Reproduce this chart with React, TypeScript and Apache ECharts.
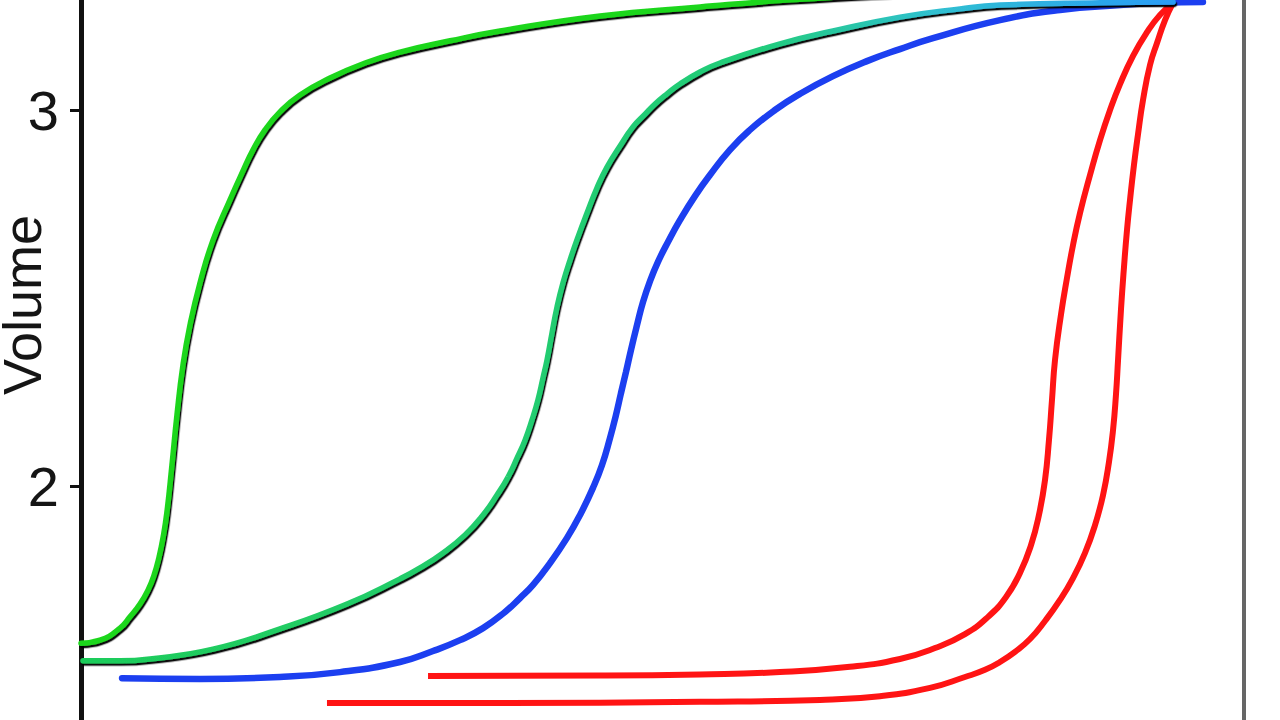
import React, { useEffect, useRef } from "react";
import * as echarts from "echarts";

// x: arbitrary time units (0..100), y: Volume
const yTicks = [1, 2, 3];
const yLabel = "Volume";

const greenA: [number, number][] = [
  [0, 1.582], [1.63, 1.59], [3.35, 1.622], [4.21, 1.652], [5.07, 1.686], [5.76, 1.723],
  [6.28, 1.763], [6.71, 1.811], [7.05, 1.862], [7.39, 1.931], [7.82, 2.056], [8.25, 2.189],
  [8.77, 2.322], [9.37, 2.428], [10.23, 2.54], [11.35, 2.654], [12.81, 2.761], [13.84, 2.832],
  [14.79, 2.894], [15.82, 2.947], [17.11, 2.995], [18.83, 3.04], [21.41, 3.085], [24.42, 3.125],
  [27.43, 3.154], [31.73, 3.184], [36.03, 3.21], [44.63, 3.25], [53.22, 3.274], [60.96, 3.293],
  [70.42, 3.309], [79.02, 3.319],
];

const greenB: [number, number][] = [
  [0.17, 1.535], [3.35, 1.535], [5.93, 1.54], [11.35, 1.566], [17.11, 1.62], [22.87, 1.686],
  [27.43, 1.753], [29.15, 1.782], [31.13, 1.822], [33.02, 1.87], [34.57, 1.923], [35.77, 1.976],
  [36.72, 2.024], [37.49, 2.074], [38.18, 2.122], [38.78, 2.176], [39.29, 2.229], [39.72, 2.287],
  [40.07, 2.335], [40.5, 2.407], [40.93, 2.476], [41.44, 2.54], [42.05, 2.601], [42.73, 2.662],
  [43.51, 2.726], [44.37, 2.793], [45.23, 2.848], [46.35, 2.904], [47.46, 2.955], [48.5, 2.989],
  [49.36, 3.016], [50.39, 3.043], [51.5, 3.069], [53.22, 3.101], [54.94, 3.125], [60.1, 3.176],
  [64.66, 3.21], [70.42, 3.247], [75.58, 3.269], [79.02, 3.279], [87.62, 3.285], [93.9, 3.287],
];

const blue: [number, number][] = [
  [3.53, 1.489], [10.23, 1.487], [17.11, 1.492], [22.27, 1.505], [27.43, 1.532], [30.27, 1.561],
  [32.59, 1.59], [34.57, 1.622], [36.46, 1.665], [37.75, 1.702], [38.87, 1.737], [40.33, 1.795],
  [41.79, 1.862], [42.91, 1.923], [44.02, 1.995], [44.8, 2.056], [45.49, 2.128], [46.0, 2.189],
  [46.43, 2.247], [46.86, 2.303], [47.29, 2.362], [47.81, 2.428], [48.32, 2.489], [48.93, 2.545],
  [49.61, 2.596], [50.47, 2.649], [51.5, 2.707], [52.79, 2.771], [54.08, 2.827], [55.8, 2.894],
  [57.52, 2.947], [59.67, 3.0], [61.82, 3.043], [64.66, 3.09], [67.58, 3.13], [70.42, 3.162],
  [73.26, 3.191], [79.02, 3.239], [84.18, 3.266], [89.34, 3.279], [92.78, 3.285], [96.47, 3.287],
];

const redA: [number, number][] = [
  [29.84, 1.495], [44.63, 1.496], [53.22, 1.499], [60.1, 1.505], [66.12, 1.519], [70.42, 1.54],
  [73.43, 1.569], [76.01, 1.606], [77.99, 1.652], [79.54, 1.705], [80.74, 1.769], [81.69, 1.843],
  [82.37, 1.923], [82.89, 2.016], [83.23, 2.122], [83.49, 2.229], [83.75, 2.335], [84.27, 2.457],
  [84.78, 2.553], [85.3, 2.641], [85.9, 2.726], [86.76, 2.827], [87.62, 2.92], [88.48, 3.0],
  [89.34, 3.069], [90.46, 3.144], [91.66, 3.207], [92.78, 3.253], [93.9, 3.285],
];

const redB: [number, number][] = [
  [21.15, 1.423], [36.03, 1.423], [53.22, 1.426], [63.54, 1.431], [68.7, 1.441], [73.0, 1.463],
  [76.01, 1.492], [77.73, 1.511], [79.02, 1.532], [80.31, 1.559], [81.6, 1.593], [82.89, 1.641],
  [84.18, 1.697], [85.3, 1.755], [86.33, 1.822], [87.19, 1.896], [87.88, 1.976], [88.39, 2.064],
  [88.74, 2.149], [88.99, 2.242], [89.17, 2.335], [89.42, 2.468], [89.68, 2.582], [89.94, 2.681],
  [90.2, 2.761], [90.54, 2.854], [90.88, 2.934], [91.32, 3.027], [91.92, 3.12], [92.52, 3.178],
  [93.21, 3.239], [93.9, 3.285],
];

export default function App() {
  const ref = useRef<HTMLDivElement>(null);
  useEffect(() => {
    if (!ref.current) return;
    const chart = echarts.init(ref.current, null, { renderer: "svg" });
    const shadow = {
      shadowColor: "rgba(0,0,0,0.95)",
      shadowBlur: 0,
      shadowOffsetX: 1.3,
      shadowOffsetY: 2.3,
    };
    const sm = 0.5;
    chart.setOption({
      animation: false,
      backgroundColor: "#ffffff",
      grid: {
        left: 81,
        right: 36,
        top: 22,
        bottom: 38,
        show: true,
        borderColor: "#666666",
        borderWidth: 4,
      },
      xAxis: {
        type: "value",
        min: 0,
        max: 100,
        axisLine: { show: false },
        axisTick: { show: false },
        axisLabel: { show: false },
        splitLine: { show: false },
      },
      yAxis: {
        type: "value",
        min: 1,
        max: 3.5,
        interval: 1,
        axisLine: { show: true, lineStyle: { color: "#111111", width: 5 } },
        axisTick: { show: true, length: 11, lineStyle: { color: "#111111", width: 3 } },
        axisLabel: {
          margin: 22,
          fontSize: 56,
          color: "#151515",
          fontFamily: "Liberation Sans",
          formatter: (v: number) => (yTicks.includes(v) ? String(v) : ""),
        },
        splitLine: { show: false },
      },
      graphic: [
        {
          type: "text",
          x: 22,
          y: 405,
          rotation: Math.PI / 2,
          style: {
            text: yLabel,
            fontSize: 54,
            fontFamily: "Liberation Sans",
            fill: "#151515",
            textAlign: "center",
            textVerticalAlign: "middle",
          },
        },
      ],
      series: [
        {
          type: "line",
          data: redB,
          smooth: sm,
          showSymbol: false,
          lineStyle: { color: "#ff1414", width: 6, cap: "butt" },
        },
        {
          type: "line",
          data: redA,
          smooth: sm,
          showSymbol: false,
          lineStyle: { color: "#ff1414", width: 6, cap: "butt" },
        },
        {
          type: "line",
          data: blue,
          smooth: sm,
          showSymbol: false,
          lineStyle: { color: "#1c3ff0", width: 6.5, cap: "round" },
        },
        {
          type: "line",
          data: greenB,
          smooth: sm,
          showSymbol: false,
          lineStyle: {
            width: 5.5,
            cap: "round",
            color: {
              type: "linear",
              x: 0,
              y: 0,
              x2: 1,
              y2: 0,
              colorStops: [
                { offset: 0, color: "#1fcc5a" },
                { offset: 0.62, color: "#22cc7a" },
                { offset: 0.78, color: "#30c0d0" },
                { offset: 1, color: "#2a9cf5" },
              ],
            },
            ...shadow,
          },
        },
        {
          type: "line",
          data: greenA,
          smooth: sm,
          showSymbol: false,
          lineStyle: { color: "#1ed61e", width: 5.5, cap: "round", ...shadow },
        },
      ],
    });
    return () => chart.dispose();
  }, []);
  return (
    <div
      style={{
        position: "fixed",
        left: 0,
        top: 0,
        width: 1280,
        height: 720,
        overflow: "hidden",
        background: "#ffffff",
      }}
    >
      <div
        ref={ref}
        style={{ position: "absolute", left: 0, top: -100, width: 1280, height: 1000 }}
      />
    </div>
  );
}
